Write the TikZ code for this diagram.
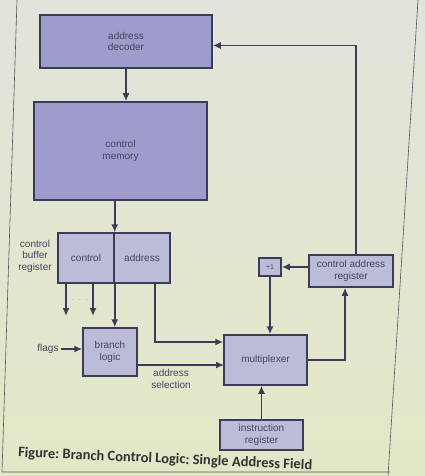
\documentclass[tikz,border=0pt]{standalone}
\usepackage{fontspec}
\setmainfont{Liberation Sans}
\newfontfamily\capfont{Carlito}
\usetikzlibrary{arrows,arrows.meta,positioning}
\definecolor{bgtop}{HTML}{E2E3DB}
\definecolor{bgbottom}{HTML}{E4E7C6}
\definecolor{topfill}{HTML}{9E9CCC}
\definecolor{lowfill}{HTML}{BBBCD7}
\definecolor{linecol}{HTML}{3B3D58}
\definecolor{ink}{HTML}{45455E}
\definecolor{pageedge}{HTML}{55565E}
\tikzset
{
    topblock/.style = {rectangle, draw=linecol, fill=topfill, line width=1.5pt, align=center, inner sep=0pt, text=ink, font=\fontsize{10}{11.5}\selectfont},
    regbox/.style   = {rectangle, draw=linecol, fill=lowfill, line width=1.5pt, align=center, inner sep=0pt, text=ink, font=\fontsize{10}{11.5}\selectfont},
    plainlbl/.style = {align=center, inner sep=0pt, text=ink, font=\fontsize{10}{11.5}\selectfont},
    flow/.style     = {draw=linecol, line width=1.5pt, ->}
}

\begin{document}
\begin{tikzpicture}[x=1pt, y=-1pt, >={Latex[length=8pt, width=7pt]}]
	% page
	\useasboundingbox (0,0) rectangle (425,476);
	\shade[top color=bgtop, bottom color=bgbottom] (0,0) rectangle (425,476);
	\draw[pageedge, line width=0.6pt] (17,0) -- (2,472) -- (390,472);
	\draw[pageedge, line width=0.6pt] (418,0) -- (388,476);

	% blocks
	\node[topblock, minimum width=172pt, minimum height=53pt] (adec) at (126,41.5) {address\\decoder};
	\node[topblock, minimum width=173pt, minimum height=98pt] (cmem) at (120.5,151) {control\\memory};
	\node[regbox, minimum width=56pt, minimum height=50pt] (cbrctl) at (86,258) {control};
	\node[regbox, minimum width=56pt, minimum height=50pt] (cbraddr) at (142,258) {address};
	\node[regbox, minimum width=54pt, minimum height=48pt] (blogic) at (110,352) {branch\\logic};
	\node[regbox, minimum width=83pt, minimum height=50pt] (mux) at (265.5,360) {multiplexer};
	\node[regbox, minimum width=22pt, minimum height=18pt, font=\fontsize{7}{8}\selectfont] (plusone) at (270,267) {+1};
	\node[regbox, minimum width=84pt, minimum height=32pt] (car) at (351,271) {control address\\register};
	\node[regbox, minimum width=83pt, minimum height=30pt] (ireg) at (261.5,435) {instruction\\register};

	% labels
	\node[plainlbl] (cbrlbl) at (35,256) {control\\buffer\\register};
	\node[plainlbl] (flags) at (48,349) {flags};
	\node[plainlbl, text=ink!55] (dots) at (80,300) {$\cdot\,\cdot\,\cdot$};
	\node[plainlbl] (sellbl) at (171,379) {address\\selection};

	% free ends and bends
	\coordinate (ctlout1) at (66,316);
	\coordinate (ctlout2) at (93,316);
	\coordinate (addrbend) at (155,342);
	\coordinate (selin) at (224,365);
	\coordinate (muxbend) at (345,360);

	% connectors
	\draw[flow] (adec.south) -- (adec.south |- cmem.north);
	\draw[flow] (cmem.south -| cbrctl.east) -- (cbrctl.north east);
	\draw[flow] (cbrctl.south east) -- (blogic.north -| cbrctl.east);
	\draw[flow] (cbrctl.south -| ctlout1) -- (ctlout1);
	\draw[flow] (cbrctl.south -| ctlout2) -- (ctlout2);
	\draw[flow] ([xshift=2pt]flags.east) -- (blogic.west |- flags.east);
	\draw[flow] (cbraddr.south -| addrbend) -- (addrbend) -- (addrbend -| mux.west);
	\draw[flow] (blogic.east |- selin) -- (selin);
	\draw[flow] (car.west |- plusone) -- (plusone.east);
	\draw[flow] (plusone.south) -- (plusone.south |- mux.north);
	\draw[flow] (mux.east) -- (muxbend) -- (muxbend |- car.south);
	\draw[flow] ([xshift=5pt]car.north) |- ([yshift=-4pt]adec.east);
	\draw[flow] (ireg.north) -- (ireg.north |- mux.south);

	% caption
	\node[inner sep=0pt, anchor=west, rotate=-2.5, text=black!80, font=\capfont\bfseries\frenchspacing\fontsize{14.5}{16}\selectfont] (caption) at (18,453) {Figure: Branch Control Logic: Single Address Field};
\end{tikzpicture}
\end{document}
